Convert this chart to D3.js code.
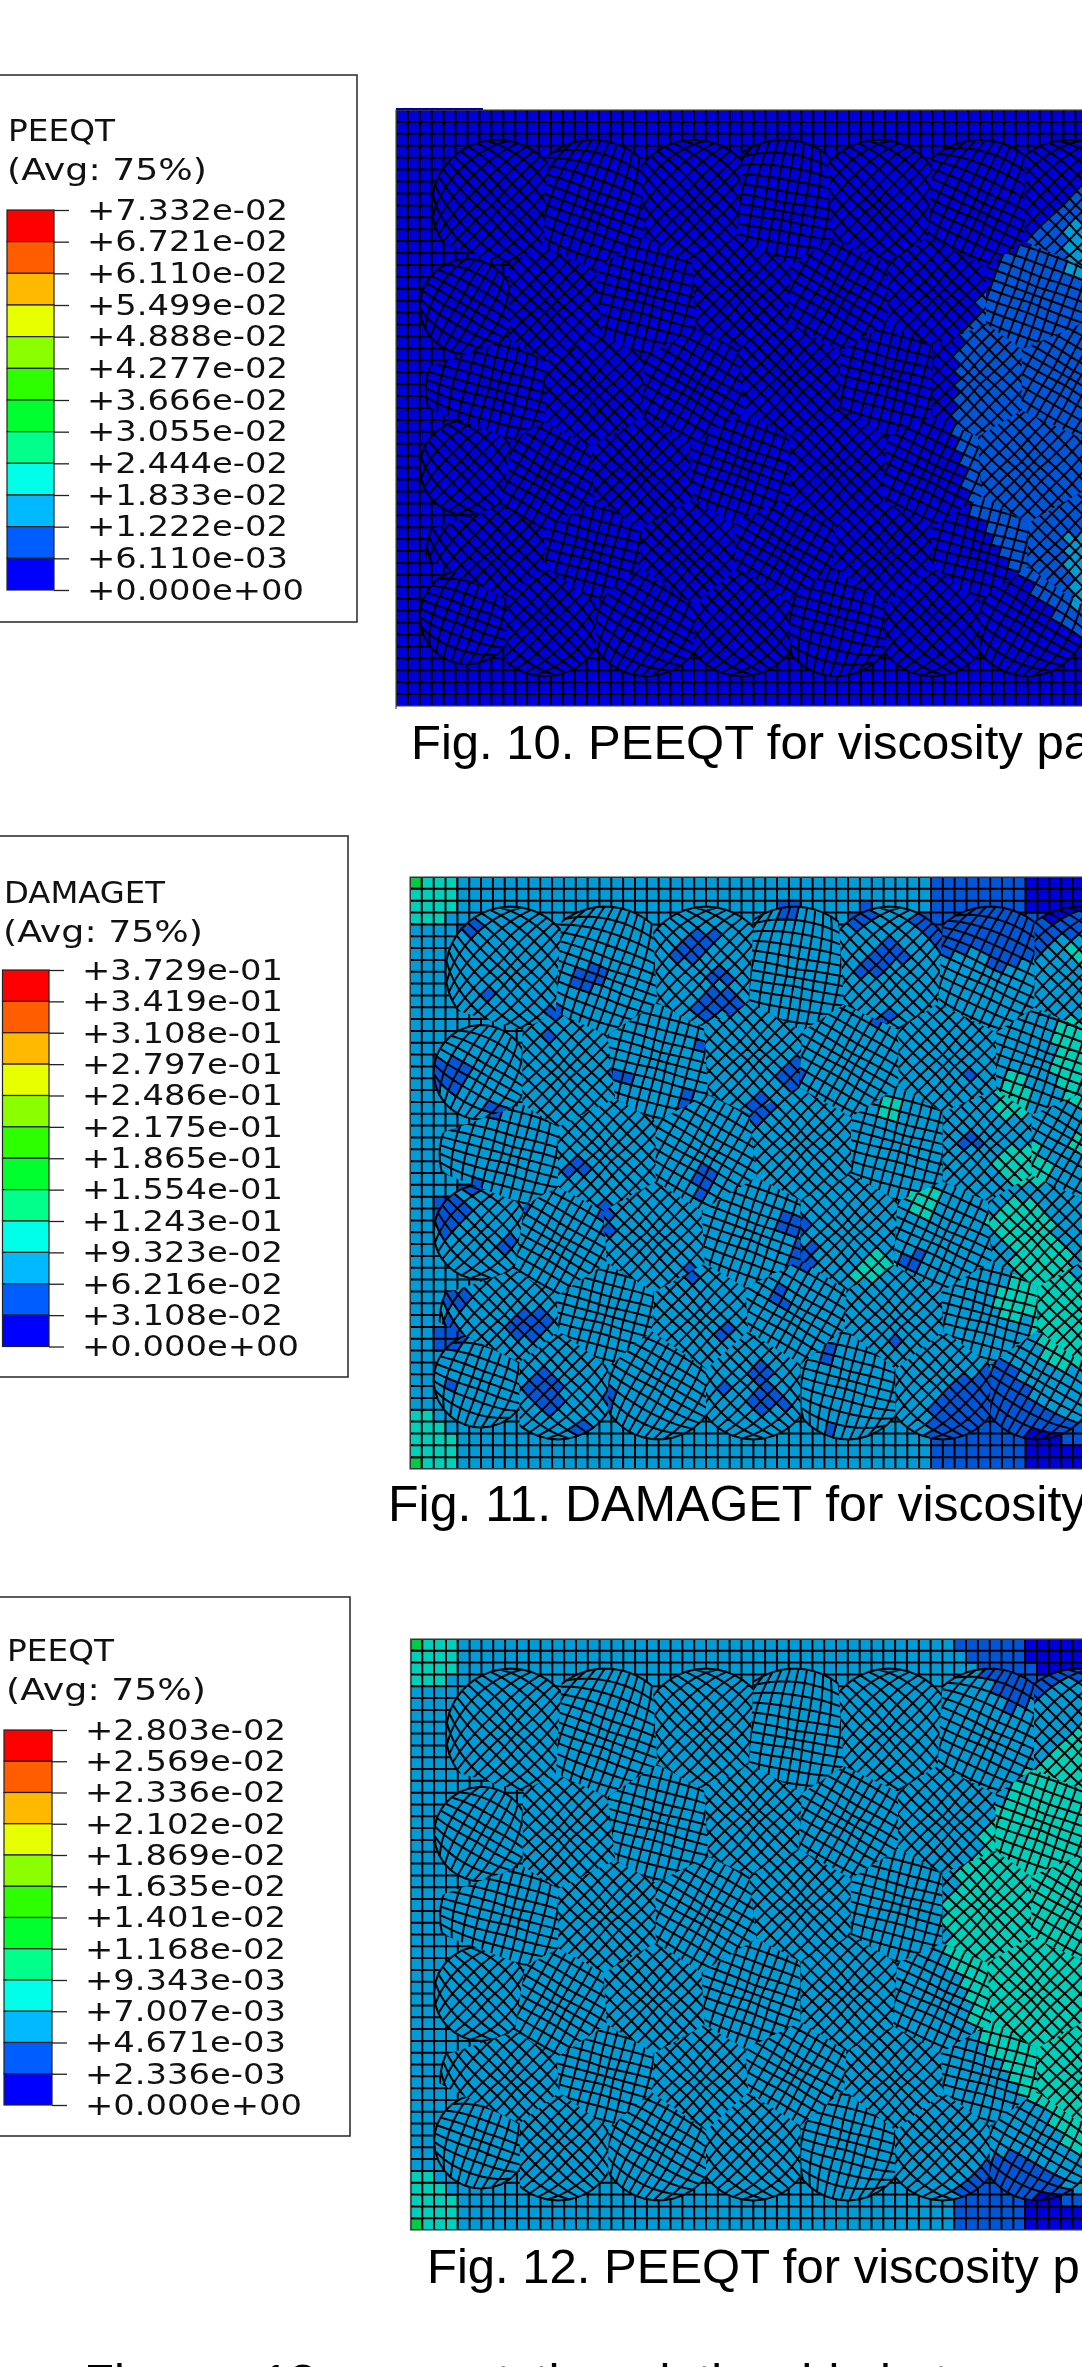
<!DOCTYPE html>
<html>
<head>
<meta charset="utf-8">
<script src="https://cdnjs.cloudflare.com/ajax/libs/d3/7.8.5/d3.min.js"></script>
<style>
html, body { margin: 0; padding: 0; background: #fff; overflow: hidden; }
</style>
</head>
<body>
<div id="chart"></div>
<script>
// legend contents, top to bottom
const legendColors = ['#ff0000', '#ff5d00', '#ffb900', '#e8ff00', '#8bff00', '#2eff00', '#00ff2e', '#00ff8b', '#00ffe8', '#00b9ff', '#005dff', '#0000ff'];
const peeqtLabelsA = ['+7.332e-02', '+6.721e-02', '+6.110e-02', '+5.499e-02', '+4.888e-02', '+4.277e-02', '+3.666e-02', '+3.055e-02', '+2.444e-02', '+1.833e-02', '+1.222e-02', '+6.110e-03', '+0.000e+00'];
const damageLabels = ['+3.729e-01', '+3.419e-01', '+3.108e-01', '+2.797e-01', '+2.486e-01', '+2.175e-01', '+1.865e-01', '+1.554e-01', '+1.243e-01', '+9.323e-02', '+6.216e-02', '+3.108e-02', '+0.000e+00'];
const peeqtLabelsB = ['+2.803e-02', '+2.569e-02', '+2.336e-02', '+2.102e-02', '+1.869e-02', '+1.635e-02', '+1.401e-02', '+1.168e-02', '+9.343e-03', '+7.007e-03', '+4.671e-03', '+2.336e-03', '+0.000e+00'];

// contour colours on the shaded mesh, by level (0 = lowest band)
const meshColors = ['#0000dc', '#0056d8', '#009cd8', '#00d0ba', '#00cc84', '#00cc44'];

// rosette centres of the mesh: u, v, radius, angle (mesh units, v down, height = 100)
const meshSeeds = [
	[17, 16, 11, 45], [33, 17, 12, 20], [50, 16, 11, 45], [65, 17, 12, 10], [81, 16, 11, 45], [98, 17, 12, 25], [113, 17, 12, 45],
	[12, 33, 8, 30], [26, 33, 14, 45], [42, 31, 14, 15], [58, 30, 14, 45], [74, 31, 14, 30], [91, 31, 14, 45], [107, 31, 14, 20],
	[17, 47, 12, 15], [33, 47, 14, 45], [50, 47, 14, 30], [66, 45, 14, 45], [83, 45, 14, 15], [97, 45, 14, 45], [113, 45, 14, 30],
	[12, 60, 8, 45], [25, 62, 14, 30], [41, 61, 14, 45], [58, 60, 14, 20], [74, 60, 14, 45], [90, 61, 14, 25], [106, 60, 14, 45],
	[17, 75, 12, 45], [33, 74, 14, 15], [49, 75, 14, 45], [65, 74, 14, 30], [82, 75, 14, 45], [98, 74, 14, 15], [114, 74, 14, 45],
	[12, 85, 8, 20], [25, 85, 10, 45], [42, 85, 10, 30], [58, 85, 10, 45], [74, 85, 10, 15], [90, 85, 10, 45], [106, 85, 10, 30]
];

// contour regions per figure: outlines in mesh units
const lensA = [[115.7, 12.6], [111.2, 16.3], [107.8, 20.8], [102.7, 24.8], [98.4, 31.5], [95.2, 38], [93.4, 46.1], [94.1, 54.7], [96.6, 66.6], [100.5, 73.4], [106.1, 79.2], [111.8, 85.9], [115.7, 89.1], [125, 89], [125, 12.6]];
const lensC = [[113.2, 14.2], [108.7, 18.6], [104.3, 22.4], [98.6, 29.2], [95.9, 35.8], [91.8, 41.8], [90.1, 47.7], [91.8, 55.1], [95.2, 65.1], [100.3, 73.2], [106.5, 79.1], [113.2, 87.9], [125, 88], [125, 14]];
const hotTopA = [[112.5, 19], [112.5, 29], [120, 29], [120, 19]];
const hotBottomA = [[112.8, 71], [112.8, 83], [120, 83], [120, 71]];

const cornerTop = [[0, 0], [8.2, 0], [8.2, 3.5], [5, 8], [0, 8]];
const cornerBottom = [[0, 100], [8.2, 100], [8.2, 96], [5, 91], [0, 91]];
const cornerTopInner = [[0, 0], [3.6, 0], [0, 4]];
const cornerBottomInner = [[0, 100], [3.6, 100], [0, 96]];
const tipTop = [[0, 0], [2, 0], [2, 2], [0, 2]];
const tipBottom = [[0, 100], [2, 100], [2, 98], [0, 98]];

const damageTopLow = [[88.5, 0], [88.5, 3.5], [84.3, 8.6], [88.9, 13], [96.4, 12.3], [98, 15.9], [103.3, 13.7], [113, 9.4], [120, 9], [120, 0]];
const damageTopLowest = [[102.9, 0], [104, 5], [108.6, 7.2], [113.7, 5.7], [120, 5], [120, 0]];
const damageBottomLow = [[88.5, 100], [88.1, 89], [92.6, 85.4], [101, 81.7], [105.5, 87.6], [113.7, 93.4], [120, 94], [120, 100]];
const damageBottomLowest = [[102.9, 100], [104.8, 92.7], [113.7, 96.3], [120, 97], [120, 100]];

const strainTopLow = [[91, 0], [91.7, 1.9], [96.4, 4.6], [101, 12.5], [106, 9.8], [113.2, 6.4], [120, 6], [120, 0]];
const strainTopLowest = [[102.6, 0], [104, 3.2], [107.6, 5.8], [113.2, 5.2], [120, 5], [120, 0]];
const strainBottomLow = [[91, 100], [92, 94], [95, 90], [101, 86.5], [108, 90], [113.2, 94.7], [120, 95.5], [120, 100]];
const strainBottomLowest = [[103, 100], [104, 94.5], [107.3, 93.5], [113.2, 96.8], [120, 98], [120, 100]];

// DAMAGET spots: u, v, ru, rv, rotation
const damageLowSpots = [
	[9.7, 8.5, 1.9, 1.6, 0], [29.8, 16.8, 3.8, 1.8, -25], [48.3, 11.4, 4.5, 2.2, -25], [51.4, 21.4, 4.2, 2, -5], [6.9, 33.1, 3.4, 2.9, 0],
	[14.2, 39.3, 2.1, 1.8, 0], [35.5, 33.6, 1.7, 1.6, 0], [46.1, 37.7, 1.4, 1.2, 0], [58.9, 39, 1.9, 2.2, 0], [64.6, 33.8, 1.7, 2.8, 0],
	[64, 6.3, 1.9, 1.6, 0], [76.4, 6.8, 2.3, 2, 0], [79.8, 13.7, 4.5, 2.2, -25], [80.9, 23.6, 2.7, 1.1, 0], [95.3, 33.3, 1.4, 1.1, 0],
	[95.3, 44.8, 1.9, 1.3, 0], [27.7, 48.7, 2.1, 1.6, 0], [49.6, 51.8, 1.7, 2.9, 0], [10.8, 52.5, 2.1, 1.3, -25], [6.7, 56.7, 2.9, 3.7, 0],
	[32.8, 56.5, 1.1, 1.1, 0], [33.6, 60.2, 1.4, 1.1, 0], [15.8, 62.1, 1.4, 1.8, 0], [64.5, 58.7, 2.3, 2, 0], [66.5, 64.2, 2.1, 2.2, 0],
	[84.9, 64.5, 1.5, 1.3, 0], [47.2, 67, 0.9, 1.6, 0], [62.7, 70.8, 1.4, 2.2, 0], [8.2, 71.5, 2.3, 2, 0], [7, 77.7, 2.4, 2.8, 0],
	[20.3, 75.7, 3.4, 2.3, 0], [53.6, 77.2, 1.4, 1.5, 0], [59.3, 83.6, 1.7, 3.3, 0], [60.5, 88.7, 3.8, 1.5, 0], [23, 86.8, 2.7, 4, -25],
	[28.3, 92.7, 1.9, 1.3, -30], [33.9, 88.2, 1.1, 1.1, 0], [70.1, 80.8, 1.4, 1.5, 0], [82.4, 78.8, 1.1, 1.1, 0], [7.4, 86.1, 1.1, 1.6, 0],
	[13.1, 19.6, 1.1, 1.1, 0], [24.1, 22.4, 0.9, 1.1, 0], [23.7, 26.9, 0.8, 0.9, 0], [48.7, 28.4, 1.1, 0.9, 0], [52.5, 16.8, 1.5, 0.9, 0],
	[7.8, 41.9, 1.1, 1.1, 0], [19.9, 55.6, 1.1, 0.9, 0], [71.4, 93.4, 1.1, 0.9, 0], [52.5, 86.8, 0.9, 0.9, 0]
];
const damageHighSpots = [
	[81.3, 39.3, 1.9, 1.8, 0], [86.6, 55, 3, 2.6, 0], [77.9, 66, 4.2, 2.2, -20], [101.7, 37.1, 3, 3.7, 0], [103.3, 48.8, 4.5, 3.7, 0],
	[103.3, 58.3, 5.7, 3.7, 0], [107, 64.9, 5.3, 5.1, 0], [102.5, 71.5, 3.4, 3.7, 0], [111.6, 30.6, 3, 6.6, 0], [110, 74.4, 4.5, 9.5, 0],
	[112.7, 37.9, 1.5, 2.2, 0], [112.4, 45.2, 1.1, 1.5, 0], [112.4, 13, 1.5, 1.1, 0]
];

const panels = [
	{
		left: 396, top: 110, bottom: 706, base: 0,
		polygons: [[lensA, 1], [hotTopA, 2], [hotBottomA, 2]], spots: [],
		caption: 'Fig. 10. PEEQT for viscosity pa', captionX: 411, captionY: 759, captionSize: 49
	},
	{
		left: 410, top: 877, bottom: 1469, base: 2,
		polygons: [[cornerTop, 3], [cornerBottom, 3], [cornerTopInner, 4], [cornerBottomInner, 4], [tipTop, 5], [tipBottom, 5],
			[damageTopLow, 1], [damageBottomLow, 1], [damageTopLowest, 0], [damageBottomLowest, 0]],
		spots: [[damageLowSpots, 1], [damageHighSpots, 3]],
		caption: 'Fig. 11. DAMAGET for viscosity', captionX: 388, captionY: 1521, captionSize: 50
	},
	{
		left: 410.5, top: 1639, bottom: 2230, base: 2,
		polygons: [[lensC, 3], [cornerTop, 3], [cornerBottom, 3], [cornerTopInner, 4], [cornerBottomInner, 4], [tipTop, 5], [tipBottom, 5],
			[strainTopLow, 1], [strainBottomLow, 1], [strainTopLowest, 0], [strainBottomLowest, 0]],
		spots: [],
		caption: 'Fig. 12. PEEQT for viscosity p', captionX: 427, captionY: 2283, captionSize: 49
	}
];

const legends = [
	{ title: 'PEEQT', titleLen: 107, labels: peeqtLabelsA, boxRight: 357, boxTop: 75, boxBottom: 622, barLeft: 7, barRight: 54, barTop: 210, barBottom: 590, titleX: 8, titleY: 141, avgY: 180, avgX: 7 },
	{ title: 'DAMAGET', titleLen: 161, labels: damageLabels, boxRight: 348, boxTop: 836, boxBottom: 1377, barLeft: 2.5, barRight: 49, barTop: 970, barBottom: 1346.5, titleX: 4, titleY: 902.5, avgY: 942, avgX: 3 },
	{ title: 'PEEQT', titleLen: 107, labels: peeqtLabelsB, boxRight: 350, boxTop: 1597, boxBottom: 2136, barLeft: 4, barRight: 52, barTop: 1730, barBottom: 2105, titleX: 7, titleY: 1661, avgY: 1700, avgX: 6 }
];

const width = 1082, height = 2367;
const cell = 2;	// element size in mesh units
const disc_cell = 2;
const mesh_right = 120;

const svg = d3.select('#chart').append('svg')
	.attr('width', width)
	.attr('height', height)
	.style('display', 'block');

const in_spot = (s, u, v) => {
	const a = s[4] * Math.PI / 180;
	const du = u - s[0], dv = v - s[1];
	const p = (du * Math.cos(a) + dv * Math.sin(a)) / s[2];
	const q = (-du * Math.sin(a) + dv * Math.cos(a)) / s[3];
	return p * p + q * q <= 1;
};

const level_at = (panel, u, v) => {
	let level = panel.base;
	panel.spots.forEach(([list, lvl]) => {
		if (list.some(s => in_spot(s, u, v))) level = lvl;
	});
	panel.polygons.forEach(([poly, lvl]) => {
		if (d3.polygonContains(poly, [u, v])) level = lvl;
	});
	return level;
};

// collects quads into one path per contour level
const draw_quads = (parent, panel, quads, x, y) => {
	const paths = d3.rollups(quads, list => list.map(q =>
		'M' + q.map(p => x(p[0]).toFixed(1) + ',' + y(p[1]).toFixed(1)).join('L') + 'Z').join(''),
		q => {
			const cu = d3.mean(q, p => p[0]), cv = d3.mean(q, p => p[1]);
			return level_at(panel, cu, cv);
		});
	parent.selectAll('path')
		.data(paths)
		.enter()
		.append('path')
		.attr('d', d => d[1])
		.attr('fill', d => meshColors[d[0]])
		.attr('stroke', '#000')
		.attr('stroke-width', 2)
		.attr('stroke-linejoin', 'round');
};

// square grid bent into a disc, the way a paved mesh sits around a rosette
const disc_quads = (seed) => {
	const [cu, cv, r, angle] = seed;
	const n = Math.round(r * 2 / disc_cell);
	const a = angle * Math.PI / 180;
	const node = (i, j) => {
		const s = i * 2 / n - 1, t = j * 2 / n - 1;
		let px = s * Math.sqrt(1 - t * t / 2), py = t * Math.sqrt(1 - s * s / 2);
		// elements tighten a little towards the core of the rosette
		const d = Math.hypot(px, py);
		const pull = d > 0 ? Math.pow(d, 0.18) * r : r;
		px *= pull; py *= pull;
		return [cu + px * Math.cos(a) - py * Math.sin(a), cv + px * Math.sin(a) + py * Math.cos(a)];
	};
	const quads = [];
	for (let i = 0; i < n; i++) {
		for (let j = 0; j < n; j++) {
			quads.push([node(i, j), node(i + 1, j), node(i + 1, j + 1), node(i, j + 1)]);
		}
	}
	return quads;
};

const voronoi = d3.Delaunay.from(meshSeeds, d => d[0], d => d[1]).voronoi([-30, -30, 150, 130]);

const draw_panel = (panel, index) => {
	const unit = (panel.bottom - panel.top) / 100;
	const x = d3.scaleLinear().domain([0, mesh_right]).range([panel.left, panel.left + mesh_right * unit]);
	const y = d3.scaleLinear().domain([0, 100]).range([panel.top, panel.bottom]);

	const defs = svg.append('defs');
	defs.append('clipPath').attr('id', `panel-${index}`)
		.append('rect')
		.attr('x', x(0)).attr('y', y(0))
		.attr('width', x(mesh_right) - x(0)).attr('height', y(100) - y(0));

	const g = svg.append('g')
		.attr('clip-path', `url(#panel-${index})`)
		.style('filter', 'blur(0.45px)');

	const base_quads = [];
	for (let i = 0; i < mesh_right / cell; i++) {
		for (let j = 0; j < 100 / cell; j++) {
			const u = i * cell, v = j * cell;
			base_quads.push([[u, v], [u + cell, v], [u + cell, v + cell], [u, v + cell]]);
		}
	}
	draw_quads(g.append('g'), panel, base_quads, x, y);

	meshSeeds.forEach((seed, k) => {
		const cell_poly = voronoi.cellPolygon(k);
		defs.append('clipPath').attr('id', `grain-${index}-${k}`)
			.append('path')
			.attr('d', 'M' + cell_poly.map(p => x(p[0]) + ',' + y(p[1])).join('L') + 'Z');
		const grain = g.append('g').attr('clip-path', `url(#grain-${index}-${k})`);
		draw_quads(grain, panel, disc_quads(seed), x, y);
	});

	svg.append('rect')
		.attr('x', x(0)).attr('y', y(0))
		.attr('width', width - x(0) + 5).attr('height', y(100) - y(0))
		.attr('fill', 'none')
		.attr('stroke', '#555')
		.attr('stroke-width', 1.2);

	svg.append('text')
		.attr('x', panel.captionX)
		.attr('y', panel.captionY)
		.attr('font-family', '"Liberation Sans", Arial, sans-serif')
		.attr('font-size', panel.captionSize)
		.attr('fill', '#000')
		.text(panel.caption);
};

const draw_legend = (legend) => {
	const g = svg.append('g').style('filter', 'blur(0.35px)');
	g.append('rect')
		.attr('x', -5)
		.attr('y', legend.boxTop)
		.attr('width', legend.boxRight + 5)
		.attr('height', legend.boxBottom - legend.boxTop)
		.attr('fill', '#fff')
		.attr('stroke', '#333')
		.attr('stroke-width', 1.6);

	const values = legend.labels.map(Number);
	const band = d3.scaleLinear()
		.domain([0, legend.labels.length - 1])
		.range([legend.barTop, legend.barBottom]);

	g.selectAll('rect.band')
		.data(legendColors)
		.enter()
		.append('rect')
		.attr('class', 'band')
		.attr('x', legend.barLeft)
		.attr('y', (d, i) => band(i))
		.attr('width', legend.barRight - legend.barLeft)
		.attr('height', (d, i) => band(i + 1) - band(i))
		.attr('fill', d => d)
		.attr('stroke', '#222')
		.attr('stroke-width', 1.2);

	// evenly stepped contour values, so a linear axis lands on the band edges
	const axis_scale = d3.scaleLinear().domain([0, d3.max(values)]).range([legend.barBottom, legend.barTop]);
	const axis = d3.axisRight(axis_scale)
		.tickValues(d3.range(legend.labels.length).map(i => d3.max(values) * (1 - i / 12)))
		.tickFormat((d, i) => legend.labels[i])
		.tickSize(15)
		.tickPadding(18);
	const axis_g = g.append('g')
		.attr('transform', `translate(${legend.barRight},0)`)
		.call(axis);
	axis_g.select('.domain').remove();
	axis_g.selectAll('line').attr('stroke', '#222').attr('stroke-width', 1.3);
	axis_g.selectAll('text')
		.attr('font-family', '"DejaVu Sans", sans-serif')
		.attr('font-size', 29)
		.attr('fill', '#111')
		.attr('dy', '0.32em')
		.each(function () {
			d3.select(this).attr('textLength', this.getComputedTextLength() * 1.165).attr('lengthAdjust', 'spacingAndGlyphs');
		});

	const title_style = sel => sel
		.attr('font-family', '"DejaVu Sans", sans-serif')
		.attr('font-size', 31)
		.attr('fill', '#111')
		.attr('lengthAdjust', 'spacingAndGlyphs');
	g.append('text').attr('x', legend.titleX).attr('y', legend.titleY).attr('textLength', legend.titleLen).call(title_style).text(legend.title);
	g.append('text').attr('x', legend.avgX).attr('y', legend.avgY).attr('textLength', 200).call(title_style).text('(Avg: 75%)');
};

panels.forEach(draw_panel);
legends.forEach(draw_legend);

// overhang of the first mesh at its top left corner
svg.append('rect').attr('x', 396).attr('y', 108).attr('width', 87).attr('height', 2).attr('fill', '#0000b0');
svg.append('line').attr('x1', 396).attr('x2', 396).attr('y1', 706).attr('y2', 709).attr('stroke', '#333');

// first line of the paragraph under the figures, only its top shows
const bodyWords = [['Figure', 84], ['13', 262], ['presents', 347], ['the', 535], ['relationship', 616], ['between', 880]];
svg.append('g')
	.selectAll('text')
	.data(bodyWords)
	.enter()
	.append('text')
	.attr('x', d => d[1])
	.attr('y', 2398)
	.attr('font-family', '"Liberation Sans", Arial, sans-serif')
	.attr('font-size', 49)
	.attr('fill', '#000')
	.text(d => d[0]);
</script>
</body>
</html>
